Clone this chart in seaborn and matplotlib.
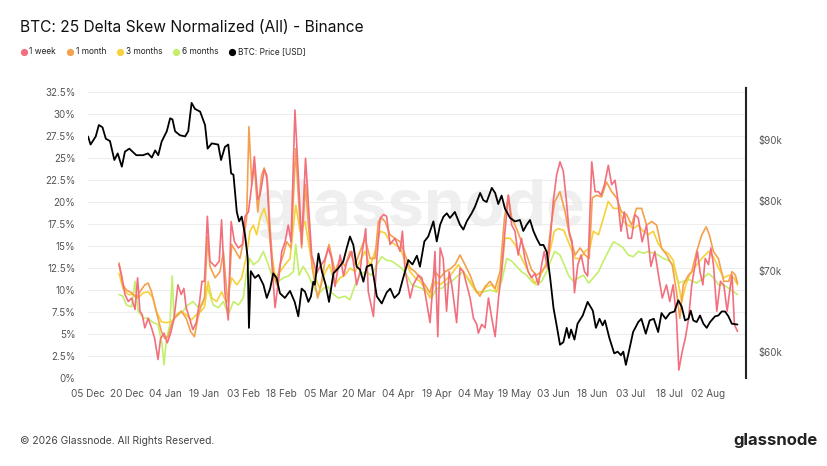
import numpy as np
import pandas as pd
import matplotlib
matplotlib.use("Agg")
import matplotlib.pyplot as plt
import matplotlib.ticker as mticker
from matplotlib.lines import Line2D
import seaborn as sns

start = pd.Timestamp("2025-12-05")

# day offsets from 05 Dec and values
week_days = [12, 13, 14.3, 15.6, 16.9, 18.2, 19.2, 20.1, 21, 22, 23.3, 24.6, 25.8, 27.1, 28.1, 29.4, 30.7, 32,
             33.3, 34.8, 36.1, 37.1, 38, 39.3, 40.6, 41.9, 43.2, 44.1, 45.1, 46.2, 47.2, 49.2, 50.8, 51.7, 53,
             54.3, 55.4, 56.7, 58.2, 59.8, 60.8, 62.1, 63.4, 64.4, 65.7, 66.6, 68.2, 69.2, 70.4, 71.7, 72.4,
             73.7, 75, 76.3, 77.5, 78.6, 80.1, 81.4, 82.7, 84.2, 85.5, 86.6, 88.5, 89.8, 91.7, 93, 94.3, 95.6,
             97.6, 98.9, 100.1, 102.1, 104, 105.3, 106.2, 107.5, 108.5, 110.5, 111.8, 113.1, 114.4, 115.6,
             116.9, 118.8, 120.8, 121.7, 122.7, 124.7, 125.9, 127.9, 129.2, 130.4, 132.4, 133.7, 134.3, 135.4,
             136.3, 137.5, 138.8, 139.8, 140.8, 142.7, 144, 145.3, 146.6, 147.9, 149.2, 150.5, 151.1, 152.4,
             153.7, 155, 156.3, 157.6, 158.9, 160.1, 161.4, 162.7, 164, 165.3, 166.5, 167.8, 169.1, 170.4,
             171.7, 173, 174.3, 175.6, 176.6, 177.9, 179.2, 180.1, 181.4, 182.7, 184, 185.2, 186.2, 187.4,
             188.3, 189.6, 190.9, 192.2, 193.4, 195, 196.3, 197.6, 198.6, 199.9, 201.4, 202.7, 204, 205,
             206.3, 207.6, 209.1, 210.4, 211.7, 213, 214.5, 216.2, 217.9, 219.4, 221, 222.3, 223.9, 225.2,
             226.5, 227.8, 228.7, 230, 231.2, 232.5, 233.7, 235, 235.9, 236.9, 238, 238.9, 240.2, 241.1,
             242.1, 243.4, 244.8, 246.1, 247.4, 248.7, 249.3, 250.2, 251.4]
week_vals = [12.9, 11.7, 9.5, 8.7, 9.1, 7.8, 11.4, 7.6, 7.2, 5.7, 6.8, 5.7, 4.5, 2.1, 4.5, 5.1, 4.0, 5.1,
             6.8, 10.6, 9.5, 10.2, 8.0, 6.8, 5.5, 6.3, 8.7, 11.0, 11.0, 18.4, 13.3, 12.7, 13.3, 18.0, 9.8,
             6.6, 17.8, 15.5, 14.8, 15.2, 18.4, 18.9, 22.0, 25.2, 20.3, 20.8, 23.7, 23.1, 16.3, 11.0, 8.0,
             11.0, 14.4, 15.5, 17.4, 15.5, 30.5, 23.1, 15.2, 25.0, 18.9, 14.0, 11.9, 12.7, 13.5, 14.8, 13.6, 10.4,
             14.0, 11.6, 13.1, 14.4, 10.6, 12.1, 14.4, 17.0, 9.8, 7.0, 13.6, 18.2, 18.6, 18.4,
             15.2, 15.9, 14.4, 16.7, 12.3, 9.1, 10.6, 11.7, 11.4, 9.8, 6.3, 11.4, 14.4, 4.7,
             14.8, 13.6, 7.6, 12.1, 10.6, 6.3, 12.5, 12.1, 10.6, 9.1, 6.8, 6.1, 5.1, 6.1,
             5.7, 9.1, 6.8, 4.7, 9.1, 12.1, 16.7, 20.8, 17.4, 16.7, 14.0, 15.9, 13.6, 12.1,
             11.4, 11.9, 10.6, 12.9, 14.4, 12.5, 16.7, 20.1, 23.1, 24.6, 23.5, 20.1, 16.7, 15.5,
             9.7, 12.9, 14.0, 12.1, 11.6, 24.6, 21.2, 21.2, 20.8, 22.0, 24.2, 22.0, 22.5, 20.5,
             16.7, 18.9, 15.9, 15.9, 18.6, 18.2, 15.5, 17.4, 12.7, 14.4, 11.4, 9.1, 10.6, 8.7,
             10.6, 6.8, 0.9, 3.0, 4.5, 6.8, 10.6, 12.9, 14.4, 12.1, 10.6, 13.6, 12.9, 14.8,
             12.9, 7.6, 11.0, 10.6, 7.6, 10.6, 11.7, 6.1, 5.3]

month_days = [12, 13.5, 14.9, 16.9, 18.8, 20.1, 22, 23.3, 24.6, 25.8, 27.1, 28.4, 29.7, 31, 32.3, 33.5, 34.8,
              36.1, 38, 39.7, 41.2, 42.5, 43.8, 45.1, 46.3, 47.2, 49.2, 51.1, 52.4, 53.7, 54.3, 55.6, 57.2,
              58.8, 60.1, 61.4, 62.3, 63.4, 64.4, 65.7, 67.2, 68.2, 69.5, 70.4, 71.7, 73, 74.3, 75.6, 76.9,
              78.6, 80.4, 81.4, 82.7, 84.2, 85.5, 86.8, 88.9, 90.2, 91.7, 93.3, 95.6, 97.6, 99.5, 101.4, 103.4,
              105.3, 107.2, 109.2, 111.1, 112.4, 113.7, 115, 116.9, 118.8, 120.8, 122.7, 124.7, 126.6, 128.5,
              130.4, 132.4, 134.3, 136.3, 138.2, 140.1, 142.1, 144, 145.9, 147.9, 149.8, 151.7, 153.7, 155.6,
              157.6, 159.5, 161.2, 162.7, 164, 165.9, 167.8, 169.8, 171.7, 173.6, 175.6, 177.5, 179.2, 180.7,
              182.7, 184.6, 186.4, 188.6, 190.5, 192.4, 194, 195.2, 196.9, 198.8, 200.7, 202.7, 204.6, 206.5,
              208.5, 210.4, 212.3, 214.3, 216.2, 218.2, 220.1, 222, 224, 226.2, 227.8, 229.1, 230.4, 232.4,
              233.7, 235.6, 237.6, 239.3, 240.5, 242.1, 244, 246.1, 248, 249.3, 250.6, 251.4]
month_vals = [13.1, 10.6, 10.0, 9.7, 9.1, 9.8, 10.6, 10.8, 9.8, 8.3, 6.8, 5.3, 4.5, 4.7, 6.1, 6.8, 7.2,
              7.6, 6.8, 5.3, 4.7, 6.8, 8.3, 9.1, 16.1, 12.7, 11.4, 12.1, 14.4, 9.8, 8.7, 15.2, 14.4,
              13.6, 15.5, 18.2, 28.6, 22.0, 24.2, 18.9, 23.1, 23.9, 22.3, 17.4, 12.1, 10.6, 12.9, 14.0, 15.5,
              14.8, 26.1, 20.8, 14.8, 22.0, 16.7, 12.5, 9.1, 10.6, 13.3, 15.2, 12.1, 13.6, 12.7, 14.4, 12.9,
              14.4, 15.9, 13.6, 13.6, 17.8, 18.2, 17.8, 16.3, 15.9, 15.5, 14.0, 12.5, 12.1, 11.4,
              10.6, 9.7, 12.1, 11.4, 12.1, 12.4, 12.9, 14.0, 12.9, 11.7, 10.2, 9.3, 10.4, 11.0,
              10.2, 12.1, 18.2, 20.8, 18.2, 17.0, 15.5, 14.0, 12.3, 11.7, 12.1, 12.9, 17.4, 20.1,
              21.2, 19.0, 16.2, 14.0, 14.8, 14.0, 13.6, 20.5, 20.8, 20.6, 22.3, 21.2, 20.5, 18.9,
              18.6, 17.4, 19.3, 19.3, 17.4, 17.8, 17.4, 14.8, 14.0, 12.8, 9.8, 6.8, 10.6, 11.7,
              12.1, 14.4, 16.3, 17.2, 16.3, 14.4, 13.6, 11.0, 11.0, 12.1, 11.7, 10.8]

three_days = [12, 13.5, 15.6, 17.5, 19.4, 21.4, 23.3, 25.2, 26.5, 28.4, 30.4, 32.3, 34.2, 36.1, 38, 40, 41.9,
              43.8, 45.1, 46.5, 47.9, 49.8, 51.7, 53.7, 55.6, 57.6, 59.5, 61.4, 62.7, 64, 65.3, 66.6, 68.2,
              69.8, 71.1, 72.6, 74.3, 76.3, 78.2, 80.4, 82.1, 84, 85.9, 87.9, 89.8, 91.7, 93.5, 95.6, 97.6,
              99.5, 101.4, 103.4, 105.3, 107.2, 109.2, 111.1, 113.1, 115, 116.9, 118.8, 120.8, 122.7, 124.7,
              126.6, 128.5, 130.4, 132.4, 134.3, 136.3, 138.2, 140.4, 143.4, 145.3, 147.9, 150.5, 152.4, 154.4,
              156.3, 158.2, 160.1, 161.4, 163.4, 165.3, 167.2, 169.1, 171.1, 173, 175, 176.9, 178.8, 180.5,
              182, 184.2, 186.2, 188.6, 190.5, 192.4, 194.3, 195.6, 197.6, 199.5, 201.4, 203.4, 205.3, 207.2,
              209.1, 211.1, 213, 214.9, 216.9, 218.8, 220.7, 222.7, 224.6, 226.5, 228.5, 229.8, 231.4, 233,
              235.6, 238.2, 240.2, 242.1, 244.1, 246.1, 248, 250, 251.4]
three_vals = [11.9, 10.2, 9.5, 9.5, 9.1, 9.7, 9.8, 9.1, 7.6, 6.4, 6.3, 6.4, 7.2, 7.6, 7.2, 6.6, 7.2,
              7.6, 8.1, 11.0, 9.1, 8.7, 9.8, 8.5, 11.4, 10.6, 11.4, 14.0, 16.7, 17.4, 16.3, 18.2, 19.3,
              17.4, 14.0, 11.4, 12.1, 12.9, 13.6, 19.7, 16.7, 17.8, 14.4, 11.4, 10.2, 12.0, 12.9, 10.6, 11.4,
              11.7, 12.5, 12.1, 13.3, 14.4, 12.7, 14.4, 16.7, 16.5, 15.5, 15.2, 14.8, 13.3, 12.1,
              11.4, 11.0, 10.2, 9.1, 11.0, 10.6, 11.1, 11.7, 12.9, 12.1, 11.0, 9.7, 9.8, 10.4,
              10.6, 9.8, 12.1, 15.9, 15.9, 15.2, 14.0, 12.9, 11.7, 10.8, 11.6, 12.7, 14.4, 16.7,
              17.0, 16.8, 15.3, 13.6, 13.6, 14.4, 14.8, 16.7, 16.3, 18.2, 20.1, 19.3, 19.3, 17.8,
              17.4, 17.0, 17.4, 16.7, 16.3, 16.7, 15.3, 14.5, 14.2, 13.4, 10.8, 8.7, 10.6, 11.8,
              12.9, 13.8, 14.4, 13.8, 12.5, 11.4, 11.7, 11.4, 10.6]

six_days = [12, 13.5, 14.9, 16.9, 18.2, 19.4, 21.4, 23.3, 25.2, 27.1, 28.7, 29.4, 30.4, 31.7, 32.6, 33.3, 34.8,
            36.8, 38.7, 40.6, 42.5, 44.4, 46.1, 48.5, 50.5, 52.4, 54.3, 56.3, 58.2, 60.1, 61.4, 62.7, 64,
            65.9, 67.9, 69.8, 71.7, 73.7, 75.6, 77.5, 79.5, 80.4, 81.7, 83.3, 85.3, 87.2, 89.2, 91.1, 93,
            94.3, 96.9, 99.5, 101.4, 103.4, 105.3, 107.2, 109.8, 111.8, 113.7, 115.6, 117.6, 119.5, 121.4,
            123.4, 125.3, 127.2, 129.2, 131.1, 133, 135, 136.9, 138.5, 140.8, 143.4, 145.3, 147.9, 150.5,
            153.1, 155.6, 158.2, 160.1, 162.1, 164, 165.9, 167.8, 169.8, 171.7, 173.6, 175.6, 177.5, 179.5,
            180.7, 182.7, 184.6, 186.1, 187.9, 189.9, 191.8, 193.8, 195.6, 197.6, 199.5, 201.4, 203.4, 205.3,
            207.2, 209.1, 211.1, 213, 214.9, 216.9, 218.8, 220.7, 222.7, 224.6, 226.5, 228.5, 230.4, 232.7,
            235.6, 238.2, 240.2, 242.1, 244.1, 246.1, 248, 250, 251.4]
six_vals = [9.5, 9.3, 8.3, 8.1, 11.0, 7.6, 6.8, 6.8, 6.3, 6.1, 3.8, 1.5, 4.5, 6.1, 11.6, 6.8, 7.2,
            7.6, 8.3, 8.7, 8.1, 8.3, 10.4, 8.3, 8.0, 8.7, 7.2, 8.7, 8.3, 9.1, 12.1, 13.6, 12.9,
            13.3, 14.4, 12.9, 11.2, 11.0, 11.4, 11.6, 12.1, 15.2, 11.7, 12.7, 11.7, 10.4, 9.5, 10.2, 10.4,
            9.7, 9.1, 9.3, 8.9, 10.6, 11.7, 12.1, 11.7, 12.9, 13.8, 13.4, 13.3, 12.9, 12.5,
            11.7, 10.6, 10.4, 10.2, 9.8, 9.1, 10.2, 10.2, 10.6, 11.0, 11.7, 12.1, 10.8, 9.7,
            9.8, 10.0, 9.8, 11.0, 13.6, 13.3, 12.7, 12.1, 11.7, 11.0, 10.6, 11.0, 12.1, 13.6,
            14.4, 14.0, 12.7, 11.6, 11.0, 11.4, 11.7, 10.8, 11.4, 12.1, 13.3, 14.4, 15.5, 15.2,
            14.8, 14.0, 13.8, 14.4, 14.2, 14.4, 14.2, 14.0, 13.6, 13.4, 12.9, 10.8, 11.0, 11.2,
            10.8, 11.4, 11.9, 11.4, 10.6, 10.6, 10.2, 9.8, 9.5]

price_days = [0, 1, 3, 4.2, 5.6, 6.9, 8.5, 10.2, 11.5, 13.1, 14.3, 16, 18.7, 21.3, 23.2, 24.7, 26, 27.2,
              28.5, 30.5, 31.8, 32.7, 33.7, 35.6, 37.6, 38.8, 40.1, 41.4, 43.4, 45.3, 46.3, 47.9, 50.4, 51.5,
              53, 54.3, 55.4, 56.3, 57.6, 58.5, 59.5, 60.8, 61.8, 62.3, 63, 64.6, 66, 67.9, 69.2, 70.5, 71.7,
              73, 74.3, 76.2, 78.2, 80, 81.4, 82.7, 84, 85.3, 86.3, 87.2, 87.8, 89.2, 90.5, 92, 93.3, 95, 96.9,
              98.8, 100.1, 101.4, 102.7, 104, 105.3, 106.6, 107.9, 109.8, 111.8, 113.7, 115.6, 117, 118.6,
              120.4, 122, 124, 125.6, 127.3, 128.5, 130.2, 131.7, 133.7, 135, 136.3, 137.6, 138.9, 140.1, 142,
              144, 145.3, 146.6, 148.5, 149.8, 151.8, 153, 154.3, 156.3, 157.6, 158.8, 160.1, 161.4, 163.4,
              165.3, 167.2, 168.5, 169.8, 171.1, 172.4, 173.7, 175, 176.3, 177.6, 178.9, 180.2, 181.4, 182.7,
              184, 185.3, 186.2, 187, 188.3, 189.5, 191.5, 193.4, 195.4, 196.6, 198, 199.2, 200.1, 201.8,
              203.7, 205, 206.3, 207.2, 208.2, 209.5, 211, 213, 214.2, 215.9, 217.4, 219, 220.7, 222, 223.6,
              225.2, 227, 228.5, 229.8, 231.1, 232.4, 233.3, 234.3, 235.6, 236.9, 238.2, 239.5, 240.8, 242.7,
              244, 245.3, 246.6, 247.9, 249.2, 251.4]
price_vals = [90.6, 89.2, 90.6, 92.6, 92.2, 90.2, 89.8, 86.6, 87.7, 85.5, 88.0, 88.5, 87.4, 87.4, 87.7, 87.0,
              88.2, 87.4, 89.7, 91.5, 93.8, 93.6, 91.5, 90.8, 90.6, 91.5, 96.6, 95.5, 95.0, 92.6, 88.5, 89.4,
              89.2, 86.6, 88.8, 89.2, 84.4, 84.2, 78.4, 77.0, 77.7, 75.0, 71.8, 62.8, 70.0, 69.1, 69.5, 68.2,
              66.5, 67.7, 69.7, 69.1, 67.1, 66.5, 67.4, 66.0, 64.2, 67.7, 67.3, 66.0, 66.7, 68.6, 68.2, 72.4,
              70.0, 68.2, 66.0, 69.7, 70.4, 71.3, 73.1, 74.8, 73.6, 70.6, 70.2, 68.6, 70.6, 70.9, 66.7, 65.8,
              67.2, 67.7, 66.5, 67.1, 69.1, 71.5, 70.9, 72.1, 70.6, 74.1, 74.8, 77.0, 74.1, 76.5, 77.7, 78.2,
              77.5, 78.4, 76.5, 75.8, 77.0, 78.2, 79.2, 81.3, 80.2, 79.9, 82.1, 81.3, 79.6, 80.9, 78.9, 77.5,
              77.0, 77.2, 75.6, 76.5, 77.2, 75.6, 74.5, 73.6, 73.6, 72.6, 69.1, 65.2, 63.1, 60.8, 61.1, 62.8,
              61.6, 62.6, 61.4, 63.3, 64.3, 66.0, 64.9, 62.8, 63.9, 63.1, 63.7, 61.6, 59.8, 60.0, 59.6, 60.0,
              58.5, 60.2, 62.3, 63.5, 63.9, 62.1, 63.7, 63.9, 62.3, 64.6, 63.9, 64.6, 64.8, 66.2, 65.4, 63.7,
              63.9, 64.9, 63.7, 63.5, 64.3, 63.3, 62.8, 63.5, 64.2, 64.3, 64.8, 64.8, 64.2, 63.3, 63.2]

labels = ["1 week", "1 month", "3 months", "6 months"]
colors = ["#f2707e", "#f5a04c", "#f6d23a", "#c3ef6c"]
tick_days = np.arange(0, 241, 15)


def to_dates(days):
    return start + pd.to_timedelta(np.asarray(days, dtype=float), unit="D")


sns.set_style("white")
plt.rcParams["font.family"] = ["Inter", "DejaVu Sans"]

fig = plt.figure(figsize=(8.28, 4.66), dpi=100)
ax = fig.add_axes([88 / 828, 1 - 378 / 466, (746 - 88) / 828, (378 - 88) / 466])
ax2 = ax.twinx()

# faint watermark behind the lines
ax.text(0.505, 0.58, "glassnode", transform=ax.transAxes, fontsize=47, fontweight="bold",
        color="#efefef", ha="center", va="center", zorder=0)

series = [(week_days, week_vals), (month_days, month_vals), (three_days, three_vals), (six_days, six_vals)]
for (d, v), col in zip(series[::-1], colors[::-1]):
    sns.lineplot(x=to_dates(d), y=v, ax=ax, color=col, linewidth=1.2, legend=False)

sns.lineplot(x=to_dates(price_days), y=np.array(price_vals) * 1000, ax=ax2, color="black",
             linewidth=1.3, legend=False)

ax.set_xlim(start, start + pd.Timedelta(days=254.7))
ax.set_ylim(0, 33.0)
ax.set_yticks(np.arange(0, 33, 2.5))
ax.yaxis.set_major_formatter(mticker.FuncFormatter(lambda v, p: f"{v:g}%"))
ax.set_xticks(to_dates(tick_days))
ax.set_xticklabels([t.strftime("%d %b") for t in to_dates(tick_days)])
ax.yaxis.grid(True, color="#ededed", linewidth=0.8)
ax.xaxis.grid(False)
for s in ax.spines.values():
    s.set_visible(False)
ax.tick_params(axis="y", length=0, pad=9, labelsize=7, labelcolor="#555555")
ax.tick_params(axis="x", length=4, width=0.6, color="#d0d0d0", pad=4, labelsize=7.2, labelcolor="#555555")
ax.set_xlabel("")
ax.set_ylabel("")

ax2.set_yscale("log")
ax2.set_ylim(57050, 99400)
ax2.yaxis.set_major_locator(mticker.FixedLocator([60000, 70000, 80000, 90000]))
ax2.yaxis.set_minor_locator(mticker.NullLocator())
ax2.yaxis.set_major_formatter(mticker.FuncFormatter(lambda v, p: f"${v / 1000:.0f}k"))
ax2.tick_params(axis="y", length=0, pad=9, labelsize=7, labelcolor="#555555")
for k in ["left", "top", "bottom"]:
    ax2.spines[k].set_visible(False)
ax2.spines["right"].set_color("#222222")
ax2.spines["right"].set_linewidth(1.5)
ax2.set_ylabel("")

fig.text(20 / 828, 1 - 28 / 466, "BTC: 25 Delta Skew Normalized (All) - Binance", fontsize=11.2,
         color="#111111", va="center")

handles = [Line2D([], [], marker="o", linestyle="", color=c, markersize=4.2) for c in colors + ["black"]]
fig.legend(handles, labels + ["BTC: Price [USD]"], loc="center left", bbox_to_anchor=(0.026, 1 - 52 / 466),
           ncol=5, frameon=False, fontsize=6.0, handlelength=0.5, handletextpad=0.45, columnspacing=1.4,
           labelcolor="#222222", borderpad=0, borderaxespad=0)

fig.text(20 / 828, 1 - 441 / 466, "© 2026 Glassnode. All Rights Reserved.", fontsize=7.4, color="#444444",
         va="center")
fig.text(818 / 828, 1 - 441 / 466, "glassnode", fontsize=12, fontweight="bold", color="#222222",
         ha="right", va="center")

fig.savefig("out.png", dpi=100)
